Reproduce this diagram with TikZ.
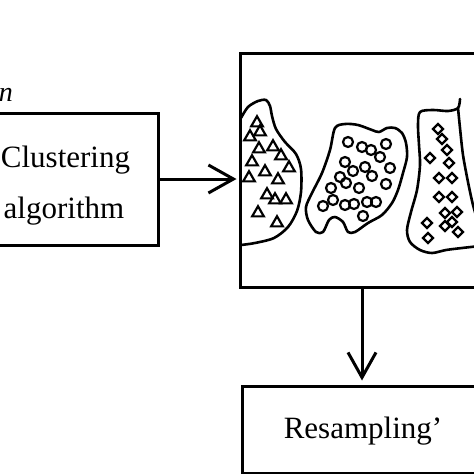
\documentclass[tikz,border=0pt]{standalone}
\usepackage{fontspec}
\setmainfont{Liberation Serif}
\usetikzlibrary{arrows.meta,shapes.geometric}
\tikzset{
    box/.style={draw,line width=3pt,inner sep=0pt},
    blob/.style={line width=2.6pt,line join=round,line cap=round},
    tri/.style={draw,line width=2.2pt,regular polygon,regular polygon sides=3,minimum size=13.5pt,inner sep=0pt},
    ring/.style={draw,line width=2.2pt,circle,minimum size=10pt,inner sep=0pt},
    dia/.style={draw,line width=2.2pt,diamond,minimum size=11pt,inner sep=0pt},
    flow/.style={line width=3pt,-{Straight Barb[length=25pt,width=28pt]}},
    lbl/.style={font=\fontsize{31}{37}\selectfont,inner sep=0pt,anchor=base}
}
\begin{document}
\begin{tikzpicture}[x=1pt,y=-1pt]
    \useasboundingbox (0,0) rectangle (474,474);
    \clip (0,0) rectangle (474,474);
    % boxes
    \node[box,minimum width=185pt,minimum height=132pt] (algo) at (65.5,179) {};
    \node[lbl] (clus) at (65.5,167) {Clustering};
    \node[lbl] (alg) at (64,218) {algorithm};
    \node[lbl,anchor=base east,font=\fontsize{28}{34}\selectfont\itshape] (word) at (13,101) {n};
    \node[box,minimum width=244pt,minimum height=234pt] (space) at (362,170) {};
    \node[box,minimum width=242pt,minimum height=87pt] (resamp) at (363,429.5) {};
    \node[lbl] (res) at (363,438) {Resampling’};
    \draw[flow,shorten >=2pt] (algo.east) -- (algo.east -| space.west);
    \draw[flow,shorten >=4pt] (space.south) -- (space.south |- resamp.north);
    % clusters
    \draw[blob] plot[smooth] coordinates {(241,118) (248,107) (258,101) (266,100) (270,106) (272,116) (276,129) (285,142) (296,154) (301,169) (301,192) (297,211) (288,227) (274,238) (255,243) (241,245)};
    \draw[blob] plot[smooth cycle] coordinates {(335,128) (345,124) (358,125) (372,130) (379,132) (387,128) (395,128) (402,133) (406,143) (407,157) (403,173) (398,190) (392,203) (382,215) (368,223) (355,232) (348,232) (343,222) (335,217) (329,220) (323,232) (316,232) (308,220) (306,207) (312,193) (322,173) (330,150)};
    \draw[blob] plot[smooth] coordinates {(460,99) (458,108) (448,111) (433,110) (420,112) (418,125) (419,145) (420,165) (417,190) (411,212) (407,230) (410,242) (420,250) (432,253) (446,250) (462,248) (480,246)};
    \draw[blob] plot[smooth] coordinates {(458,108) (460,128) (463,155) (468,182) (473,205) (478,222)};
    \foreach \p [count=\i] in {(257,123),(260,132),(250,137),(259,149),(273,147),(281,156),(252,162),(289,168),(265,172),(249,178),(278,180),(267,195),(275,200),(286,200),(258,213),(277,223)}
        \node[tri] (t\i) at \p {};
    \foreach \p [count=\i] in {(348,142),(362,147),(371,150),(386,144),(380,157),(345,162),(353,171),(365,167),(372,176),(390,168),(340,177),(346,183),(331,188),(359,188),(386,184),(333,200),(323,206),(345,205),(354,204),(367,202),(376,202),(363,216)}
        \node[ring] (c\i) at \p {};
    \foreach \p [count=\i] in {(438,129),(442,139),(447,150),(430,158),(449,163),(439,178),(452,178),(439,197),(452,197),(457,212),(445,213),(427,223),(452,222),(445,226),(458,232),(428,238)}
        \node[dia] (d\i) at \p {};
\end{tikzpicture}
\end{document}
